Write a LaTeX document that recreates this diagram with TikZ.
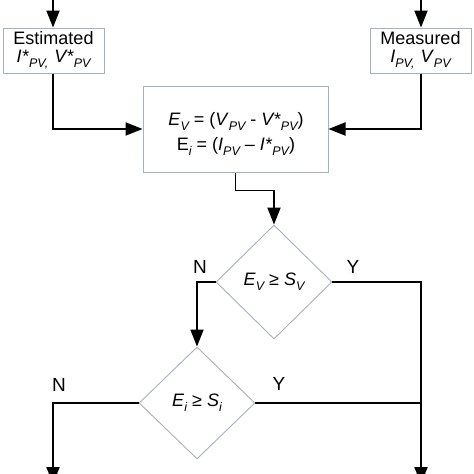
\documentclass[tikz,border=0pt]{standalone}
\usepackage{fontspec}
\setmainfont{Liberation Sans}
\usetikzlibrary{shapes.geometric,arrows.meta}
\newcommand\sbs[1]{\raisebox{-0.3em}{\fontsize{12.5}{12.5}\selectfont\itshape #1}}
\begin{document}
\begin{tikzpicture}[x=1pt,y=-1pt,
  every node/.style={font=\fontsize{18}{20}\selectfont},
  procbox/.style={draw=boxcol,line width=1pt,fill=white,inner sep=0pt,align=center},
  decision/.style={draw=diacol,line width=0.9pt,shape=diamond,inner sep=0pt,minimum width=116pt,minimum height=114pt},
  conn/.style={line width=1.9pt,black},
  arr/.style={conn,-{Triangle[length=17pt,width=13pt]}},
  lbl/.style={inner sep=0pt,font=\fontsize{19}{20}\selectfont}]
\definecolor{boxcol}{HTML}{A3B0C8}
\definecolor{diacol}{HTML}{A9AFBC}
\clip (0,0) rectangle (474,474);
\fill[white] (0,0) rectangle (474,474);
\node[procbox,minimum width=101pt,minimum height=45pt] (est) at (53.5,50.5) {Estimated\\[-2pt]\textit{I*}\sbs{PV,}\,\,\textit{V*}\sbs{PV}};
\node[procbox,minimum width=101pt,minimum height=45pt] (meas) at (420.5,50.5) {Measured\\[-2pt]\textit{I}\sbs{PV,}\,\,\textit{V}\sbs{PV}};
\node[procbox,minimum width=185pt,minimum height=86pt] (eq) at (235.5,129) {};
\node[inner sep=0pt,align=center] (eqtext) at (236,134) {\textit{E}\sbs{V} = (\textit{V}\sbs{PV} - \textit{V*}\sbs{PV})\\[5pt]E\sbs{i} = (\textit{I}\sbs{PV} -- \textit{I*}\sbs{PV})};
\node[decision] (d1) at (274,282) {\textit{E}\sbs{V} ≥ \textit{S}\sbs{V}};
\node[decision,minimum height=112pt] (d2) at (197,403) {\textit{E}\sbs{i} ≥ \textit{S}\sbs{i}};
\coordinate (in1) at (53,-5);
\coordinate (in2) at (421,-5);
\coordinate (out1) at (421,484);
\coordinate (out2) at (53,484);
\draw[arr] (in1) -- (est.north -| in1);
\draw[arr] (in2) -- (meas.north -| in2);
\draw[arr] (est.south -| in1) |- (eq.west);
\draw[arr] (meas.south -| in2) |- (eq.east);
\draw[arr] (eq.south) -- ++(0,18) -| (d1.north);
\draw[arr] (d1.west) -| (d2.north);
\draw[arr] (d1.east) -| (out1);
\draw[arr] (d2.west) -| (out2);
\draw[conn] (d2.east) -- (d2.east -| out1);
\node[lbl] (n1) at (200,267) {N};
\node[lbl] (y1) at (353,267) {Y};
\node[lbl] (n2) at (59,385) {N};
\node[lbl] (y2) at (279,384) {Y};
\end{tikzpicture}
\end{document}
